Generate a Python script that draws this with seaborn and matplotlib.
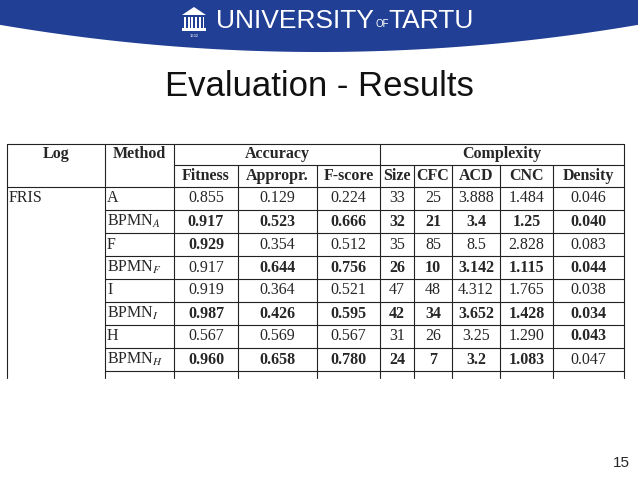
import numpy as np
import seaborn as sns
import matplotlib.pyplot as plt
from matplotlib.patches import Polygon, Rectangle

sns.set_theme(style="white")
plt.rcParams['font.family'] = ['Liberation Serif', 'DejaVu Serif']
plt.rcParams['mathtext.fontset'] = 'stix'

# table data
methods = ['A', 'BPMN$_A$', 'F', 'BPMN$_F$', 'I', 'BPMN$_I$', 'H', 'BPMN$_H$']
fitness = ['0.855', '0.917', '0.929', '0.917', '0.919', '0.987', '0.567', '0.960']
appropr = ['0.129', '0.523', '0.354', '0.644', '0.364', '0.426', '0.569', '0.658']
fscore = ['0.224', '0.666', '0.512', '0.756', '0.521', '0.595', '0.567', '0.780']
size = ['33', '32', '35', '26', '47', '42', '31', '24']
cfc = ['25', '21', '85', '10', '48', '34', '26', '7']
acd = ['3.888', '3.4', '8.5', '3.142', '4.312', '3.652', '3.25', '3.2']
cnc = ['1.484', '1.25', '2.828', '1.115', '1.765', '1.428', '1.290', '1.083']
density = ['0.046', '0.040', '0.083', '0.044', '0.038', '0.034', '0.043', '0.047']
sub_headers = ['Fitness', 'Appropr.', 'F-score', 'Size', 'CFC', 'ACD', 'CNC', 'Density']
# which value cells are bold (per row, 8 columns)
bold = [
    [0, 0, 0, 0, 0, 0, 0, 0],
    [1, 1, 1, 1, 1, 1, 1, 1],
    [1, 0, 0, 0, 0, 0, 0, 0],
    [0, 1, 1, 1, 1, 1, 1, 1],
    [0, 0, 0, 0, 0, 0, 0, 0],
    [1, 1, 1, 1, 1, 1, 1, 1],
    [0, 0, 0, 0, 0, 0, 0, 1],
    [1, 1, 1, 1, 1, 1, 1, 0],
]

fig = plt.figure(figsize=(6.38, 4.78), dpi=100)
ax = fig.add_axes([0, 0, 1, 1])
ax.set_xlim(0, 638)
ax.set_ylim(478, 0)
ax.axis('off')

# banner
xs = np.linspace(-5, 643, 200)
ys = 52 - 28 * ((xs - 319) / 324) ** 2
ax.add_patch(Polygon(np.column_stack([np.r_[xs, 643, -5], np.r_[ys, -5, -5]]),
                     closed=True, color='#213f94', lw=0))
# little building logo
ax.add_patch(Polygon([[182, 15], [194, 7], [206, 15]], closed=True, color='white', lw=0))
for k in range(6):
    ax.add_patch(Rectangle((184 + k * 3.7, 17), 1.8, 11, color='white', lw=0))
ax.add_patch(Rectangle((182, 28), 24, 3, color='white', lw=0))
ax.text(194, 36, '1632', color='white', fontsize=3, ha='center', va='center',
        family='Liberation Sans')
ax.text(216, 21, 'UNIVERSITY', color='white', fontsize=19, ha='left', va='center',
        family='Liberation Sans')
ax.text(375, 24, 'OF', color='white', fontsize=7, ha='left', va='center',
        family='Liberation Sans')
ax.text(388, 21, 'TARTU', color='white', fontsize=19, ha='left', va='center',
        family='Liberation Sans')

ax.text(319, 86, 'Evaluation - Results', fontsize=25, ha='center', va='center',
        family='Liberation Sans', color='#111111')
ax.text(621, 463, '15', fontsize=11, ha='center', va='center', family='Liberation Sans')

# grid
cols = [7, 105, 174, 238, 317, 380, 414, 452, 500, 553, 624]
top, h1, h2 = 144, 165, 187
rh = 23.0
rows = [h2 + rh * i for i in range(len(methods) + 1)]
bottom = 378
lw = 0.8
for x in cols:
    y0 = top if x in (cols[0], cols[1], cols[2], cols[5], cols[-1]) else h1
    ax.plot([x, x], [y0, bottom], color='#222222', lw=lw)
ax.plot([cols[0], cols[-1]], [top, top], color='#222222', lw=lw)
ax.plot([cols[2], cols[-1]], [h1, h1], color='#222222', lw=lw)
ax.plot([cols[0], cols[-1]], [h2, h2], color='#222222', lw=lw)
for y in rows[1:]:
    ax.plot([cols[1], cols[-1]], [y, y], color='#222222', lw=lw)

fs = 11.5
ax.text((cols[0] + cols[1]) / 2, (top + h1) / 2, 'Log', fontsize=fs, weight='bold',
        ha='center', va='center')
ax.text((cols[1] + cols[2]) / 2, (top + h1) / 2, 'Method', fontsize=fs, weight='bold',
        ha='center', va='center')
ax.text((cols[2] + cols[5]) / 2, (top + h1) / 2, 'Accuracy', fontsize=fs, weight='bold',
        ha='center', va='center')
ax.text((cols[5] + cols[-1]) / 2, (top + h1) / 2, 'Complexity', fontsize=fs, weight='bold',
        ha='center', va='center')
for j, name in enumerate(sub_headers):
    ax.text((cols[j + 2] + cols[j + 3]) / 2, (h1 + h2) / 2, name, fontsize=fs,
            weight='bold', ha='center', va='center')

ax.text(cols[0] + 2, rows[0] + rh / 2, 'FRIS', fontsize=fs, ha='left', va='center')
columns = [fitness, appropr, fscore, size, cfc, acd, cnc, density]
for i, m in enumerate(methods):
    yc = rows[i] + rh / 2
    ax.text(cols[1] + 2, yc, m, fontsize=fs, ha='left', va='center')
    for j, col in enumerate(columns):
        ax.text((cols[j + 2] + cols[j + 3]) / 2, yc, col[i], fontsize=fs,
                weight='bold' if bold[i][j] else 'normal', ha='center', va='center')

fig.savefig('out.png', dpi=100)
